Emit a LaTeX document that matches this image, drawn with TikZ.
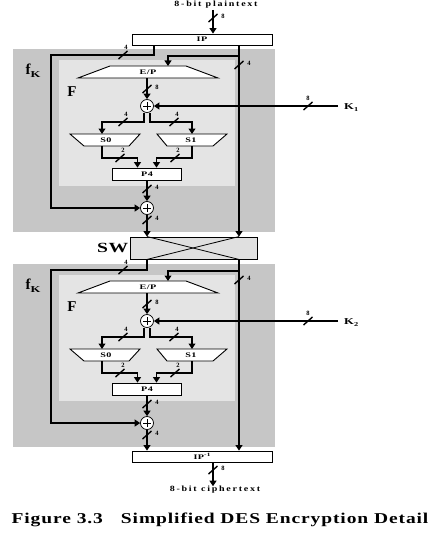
\documentclass[tikz,border=0pt]{standalone}
\usepackage{fontspec}
\setmainfont{Liberation Serif}
\newfontfamily\boxfont[FakeStretch=1.45,LetterSpace=6]{Liberation Serif}
\newfontfamily\txtfont[FakeStretch=1.25,LetterSpace=22]{Liberation Serif}
\newfontfamily\capfont[FakeStretch=1.3,LetterSpace=6]{Liberation Serif}
\newfontfamily\swfont[FakeStretch=1.4,LetterSpace=4]{Liberation Serif}
\newfontfamily\keyfont[FakeStretch=1.4]{Liberation Serif}
\usetikzlibrary{arrows.meta}
\definecolor{outerg}{RGB}{198,198,198}
\definecolor{innerg}{RGB}{228,228,228}
\definecolor{swg}{RGB}{224,224,224}
\tikzset{
  wire/.style={line width=1.1pt,draw=black},
  arr/.style={wire,-{Triangle[width=7pt,length=5.5pt]}},
  bx/.style={draw,line width=0.9pt,fill=white},
  shp/.style={draw,line width=0.9pt,fill=white},
  slashline/.style={line width=1.4pt},
  numlab/.style={font=\bfseries\fontsize{6.5}{6.5}\selectfont,inner sep=0pt},
  boxlab/.style={font=\boxfont\bfseries\fontsize{7}{7}\selectfont,inner sep=0pt},
  biglab/.style={font=\bfseries\fontsize{15}{15}\selectfont,inner sep=0pt},
  txtlab/.style={font=\txtfont\bfseries\fontsize{8}{8}\selectfont,inner sep=0pt},
  xorc/.style={circle,draw,line width=0.7pt,fill=white,minimum size=13pt,inner sep=0pt,
    path picture={\draw[line width=0.9pt]
      ([yshift=-4pt]path picture bounding box.center)--([yshift=4pt]path picture bounding box.center)
      ([xshift=-4pt]path picture bounding box.center)--([xshift=4pt]path picture bounding box.center);}},
}
\newcounter{sl}
\newcommand\vsl[3]{\stepcounter{sl}%
  \draw[slashline] (#1,#2) ++(-4.5,4) -- ++(9,-8);
  \path (#1,#2) ++(10,-2) node[numlab] (n\thesl) {#3};}
\newcommand\hsl[3]{\stepcounter{sl}%
  \draw[slashline] (#1,#2) ++(-4.5,4) -- ++(9,-8);
  \path (#1,#2) ++(3,-8) node[numlab] (n\thesl) {#3};}
\newcommand\fkround[3]{%
\begin{scope}[shift={(0,#1)}]
  \fill[outerg] (13,49) rectangle (275,232);
  \fill[innerg] (59,60) rectangle (235,186);
  \node[biglab] (fk#2) at (33,71) {f\raisebox{-0.4ex}{\keyfont\fontsize{9}{9}\selectfont K}};
  \node[biglab] (F#2) at (72,92) {F};
  \coordinate (lb#2) at (51,55);
  \coordinate (rb#2) at (239,56);
  \coordinate (epin#2) at (168,66);
  \coordinate (epout#2) at (147,78);
  \draw[shp] (110,66) -- (186,66) -- (218,78) -- (78,78) -- cycle;
  \node[boxlab] (ep#2) at (148,72.5) {E/P};
  \draw[arr] (rb#2) -| (epin#2);
  \node[xorc] (xa#2) at (147,106) {};
  \draw[arr] (epout#2) -- (xa#2.north);
  \coordinate (kend#2) at (338,106);
  \draw[arr] (kend#2) -- (xa#2.east);
  \node[anchor=west,font=\keyfont\bfseries\fontsize{9}{9}\selectfont,inner sep=0pt] (key#2) at (344,107.5)
     {K\raisebox{-0.5ex}{\fontsize{6}{6}\selectfont #3}};
  \coordinate (s0in#2) at (102,134);
  \coordinate (s1in#2) at (192,134);
  \coordinate (s0out#2) at (102,146);
  \coordinate (s1out#2) at (192,146);
  \draw[shp] (70,134) -- (140,134) -- (129,146) -- (84,146) -- cycle;
  \node[boxlab] (s0#2) at (106,140) {S0};
  \draw[shp] (157,134) -- (227,134) -- (213,146) -- (167,146) -- cycle;
  \node[boxlab] (s1#2) at (191,140) {S1};
  \draw[arr] ([xshift=-3pt]xa#2.south) |- (102,122) -- (s0in#2);
  \draw[arr] ([xshift=3pt]xa#2.south) |- (192,122) -- (s1in#2);
  \node[bx,boxlab,minimum width=69pt,minimum height=12pt] (p4#2) at (147,174) {P4};
  \draw[arr] (s0out#2) |- (137.5,158) -- ([xshift=-9.5pt]p4#2.north);
  \draw[arr] (s1out#2) |- (156.5,158) -- ([xshift=9.5pt]p4#2.north);
  \node[xorc] (xb#2) at (147,208) {};
  \draw[arr] (p4#2.south) -- (xb#2.north);
  \hsl{123}{55}{4}
  \vsl{239}{65}{4}
  \vsl{147}{89}{8}
  \draw[slashline] (308,106) ++(-4.5,4) -- ++(9,-8);
  \node[numlab] (kn#2) at (308,98) {8};
  \hsl{123}{122}{4}
  \hsl{174}{122}{4}
  \hsl{120}{158}{2}
  \hsl{175}{158}{2}
  \vsl{147}{189}{4}
  \vsl{147}{220}{4}
\end{scope}}
\begin{document}
\begin{tikzpicture}[x=1pt,y=-1pt]
  \useasboundingbox (0,0) rectangle (439,543);
  \fkround{0}{1}{1}
  \fkround{215}{2}{2}
  % input
  \node[txtlab] (pt) at (216,4.5) {8-bit plaintext};
  \node[bx,boxlab,minimum width=140pt,minimum height=11pt] (ip) at (202,39.5) {IP};
  \draw[arr] ([xshift=11pt]ip.north |- pt.south) ++(0,1.5) -- ([xshift=11pt]ip.north);
  \vsl{213}{18}{8}
  % SW
  \node[draw,fill=swg,line width=0.9pt,minimum width=127pt,minimum height=22pt,inner sep=0pt] (sw) at (193.5,248) {};
  \draw[wire,line width=0.8pt] ([xshift=-46.5pt]sw.north) -- ([xshift=45.5pt]sw.south);
  \draw[wire,line width=0.8pt] ([xshift=45.5pt]sw.north) -- ([xshift=-46.5pt]sw.south);
  \node[anchor=east,font=\swfont\bfseries\fontsize{14}{14}\selectfont,inner sep=0pt] (swl) at (128.5,247.5) {SW};
  % output
  \node[bx,boxlab,minimum width=140pt,minimum height=11pt] (ipi) at (202,456.5)
     {IP\raisebox{0.9ex}{\fontsize{5}{5}\selectfont -1}};
  \node[txtlab] (ct) at (215,490) {8-bit ciphertext};
  \draw[arr] ([xshift=11pt]ipi.south) -- ([xshift=11pt]ipi.south |- ct.north);
  \vsl{213}{470}{8}
  % round 1 wiring
  \draw[arr] ([xshift=-48pt]ip.south) |- (lb1) |- (xb1.west);
  \draw[wire] ([xshift=37pt]ip.south) -- (rb1);
  \draw[arr] (rb1) -- ([xshift=45.5pt]sw.north);
  \draw[arr] (xb1.south) -- (xb1.south |- sw.north);
  % round 2 wiring
  \draw[arr] (sw.south -| xb1) |- (lb2) |- (xb2.west);
  \draw[wire] ([xshift=45.5pt]sw.south) -- (rb2);
  \draw[arr] (rb2) -- ([xshift=37pt]ipi.north);
  \draw[arr] (xb2.south) -- (xb2.south |- ipi.north);
  % caption
  \node[font=\capfont\bfseries\fontsize{15}{15}\selectfont,inner sep=0pt] (cap) at (220,520)
     {Figure 3.3\hspace{18pt}Simplified DES Encryption Detail};
\end{tikzpicture}
\end{document}
